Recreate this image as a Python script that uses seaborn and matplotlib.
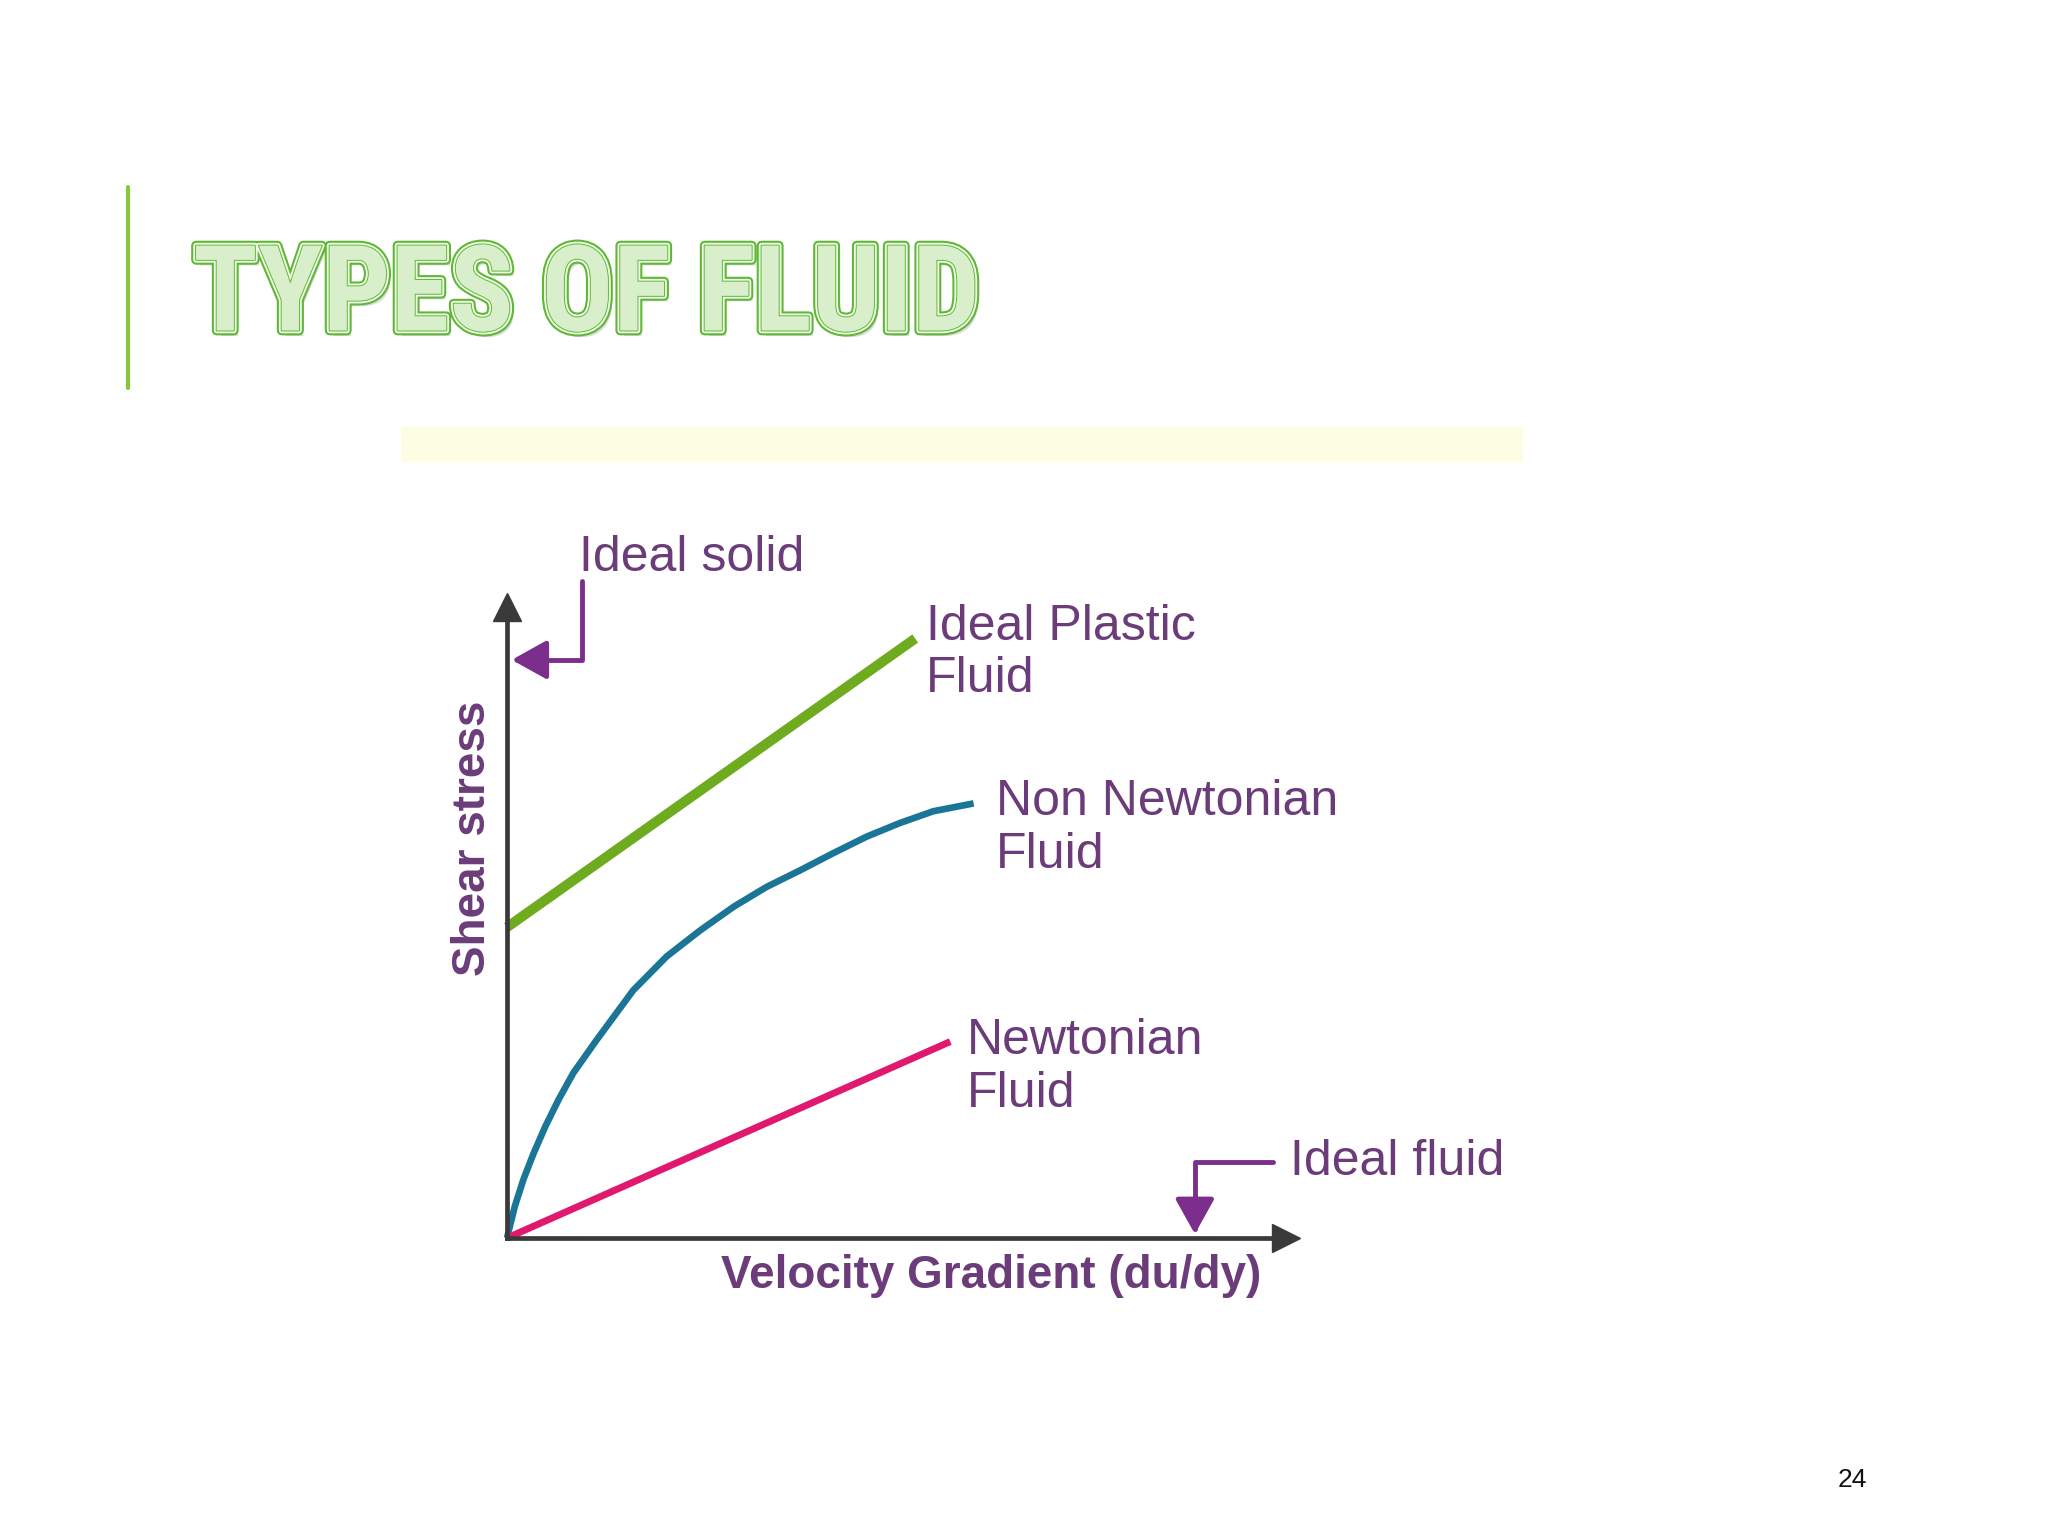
import matplotlib
matplotlib.use("Agg")
import matplotlib.pyplot as plt
import matplotlib.patheffects as pe
from matplotlib import font_manager
from matplotlib.font_manager import FontProperties
from matplotlib.patches import Rectangle
from matplotlib.lines import Line2D
import seaborn as sns
import pandas as pd

# --- data (axis units 0..10 x 0..8) ---
plastic_x = [0.0, 5.24]
plastic_y = [3.94, 7.60]

non_newt_x = [0.0, 0.10, 0.21, 0.34, 0.49, 0.66, 0.85, 1.15, 1.62, 2.05, 2.48, 2.91,
              3.33, 3.76, 4.19, 4.62, 5.04, 5.47, 5.99]
non_newt_y = [0.0, 0.40, 0.74, 1.07, 1.41, 1.75, 2.09, 2.51, 3.14, 3.57, 3.90, 4.20,
              4.45, 4.66, 4.88, 5.09, 5.26, 5.41, 5.51]

newt_x = [0.0, 5.69]
newt_y = [0.0, 2.49]

series_names = ["Ideal Plastic\nFluid", "Non Newtonian\nFluid", "Newtonian\nFluid"]
series_colors = ["#6fab1f", "#1b7596", "#e1196e"]
series_widths = [7.2, 4.8, 5.0]

xlabel = "Velocity Gradient (du/dy)"
ylabel = "Shear stress"
title = "TYPES OF FLUID"
page_no = "24"

# ---------------------------------------------------------------
sns.set_theme(style="white")
plt.rcParams["font.family"] = ["Liberation Sans", "DejaVu Sans"]

# look for a narrow bold face for the title, fall back to Liberation Sans Bold
title_font = None
for key in ["LiberationSansNarrow-Bold.", "RobotoCondensed-Bold.", "Roboto_Condensed-Bold.",
            "OpenSansCondensed-Bold.", "OpenSans_Condensed-Bold."]:
    hits = [f.fname for f in font_manager.fontManager.ttflist if key.lower() in f.fname.lower()]
    if hits:
        title_font = FontProperties(fname=hits[0], size=86)
        break
if title_font is None:
    title_font = FontProperties(family="Liberation Sans", weight="bold", size=74)

purple_txt = "#6b3c79"
purple_arrow = "#7b2e8c"
axis_col = "#3a3a3a"

fig = plt.figure(figsize=(20.48, 15.36), dpi=100)
fig.patch.set_facecolor("white")

# slide decorations
fig.add_artist(Line2D([128 / 2048, 128 / 2048], [1 - 187 / 1536, 1 - 388 / 1536],
                      color="#8cc63e", lw=3, transform=fig.transFigure))
fig.add_artist(Rectangle((401 / 2048, 1 - 462 / 1536), (1523 - 401) / 2048, 35 / 1536,
                         transform=fig.transFigure, facecolor="#fdfde3", edgecolor="none"))

t = fig.text(193 / 2048, 1 - 298 / 1536, title, fontproperties=title_font,
             color="#d9efcc", va="center", ha="left")
t.set_path_effects([
    pe.SimplePatchShadow(offset=(3, -4), shadow_rgbFace="#9a9a9a", alpha=0.35),
    pe.Stroke(linewidth=7, foreground="#5fb834"),
    pe.Stroke(linewidth=4, foreground="#f4fbef"),
    pe.Normal(),
    pe.withStroke(linewidth=1.4, foreground="#5fb834"),
])

fig.text(1852 / 2048, 1 - 1480 / 1536, page_no, fontsize=19, color="#111111",
         ha="center", va="center")

# chart axes
ax = fig.add_axes([507 / 2048, 1 - 1238 / 1536, (1286 - 507) / 2048, (1238 - 607) / 1536])
ax.set_xlim(0, 10)
ax.set_ylim(0, 8)
ax.set_facecolor("none")

df = pd.DataFrame({
    "x": plastic_x + non_newt_x + newt_x,
    "y": plastic_y + non_newt_y + newt_y,
    "fluid": [series_names[0]] * len(plastic_x) + [series_names[1]] * len(non_newt_x)
             + [series_names[2]] * len(newt_x),
})
for name, col, lw in zip(series_names, series_colors, series_widths):
    sns.lineplot(data=df[df["fluid"] == name], x="x", y="y", color=col, linewidth=lw,
                 sort=False, estimator=None, ax=ax, legend=False, clip_on=False,
                 solid_capstyle="butt", solid_joinstyle="round")

for s in ["top", "right"]:
    ax.spines[s].set_visible(False)
for s in ["left", "bottom"]:
    ax.spines[s].set_color(axis_col)
    ax.spines[s].set_linewidth(3.4)
ax.set_xticks([])
ax.set_yticks([])
ax.set_xlabel("")
ax.set_ylabel("")
ax.plot(1, 0, ">", color=axis_col, markersize=20, transform=ax.transAxes, clip_on=False)
ax.plot(0, 1, "^", color=axis_col, markersize=20, transform=ax.transAxes, clip_on=False)

# axis titles
ax.text(6.21, -0.48, xlabel, fontsize=33, fontweight="bold", color=purple_txt,
        ha="center", va="center")
ax.text(-0.44, 5.07, ylabel, fontsize=33, fontweight="bold", color=purple_txt,
        ha="center", va="center", rotation=90)

# curve labels
label_pos = [(5.38, 7.42), (6.28, 5.19), (5.90, 2.16)]
for name, (lx, ly) in zip(series_names, label_pos):
    ax.text(lx, ly, name, fontsize=36, color=purple_txt, ha="left", va="center",
            linespacing=1.18)

# ideal solid / ideal fluid brackets
arrow_kw = dict(arrowstyle="-|>,head_length=0.54,head_width=0.3", mutation_scale=40,
                color=purple_arrow, lw=3.5, shrinkA=0, shrinkB=0)
ax.annotate("", xy=(0.06, 7.33), xytext=(0.96, 8.33),
            arrowprops=dict(connectionstyle="angle,angleA=90,angleB=0,rad=0", **arrow_kw))
ax.text(0.92, 8.46, "Ideal solid", fontsize=36, color=purple_txt, ha="left", va="baseline")

ax.annotate("", xy=(8.83, 0.05), xytext=(9.83, 0.96),
            arrowprops=dict(connectionstyle="angle,angleA=0,angleB=90,rad=0", **arrow_kw))
ax.text(10.05, 0.96, "Ideal fluid", fontsize=36, color=purple_txt, ha="left", va="center")

fig.savefig("out.png", dpi=100)
